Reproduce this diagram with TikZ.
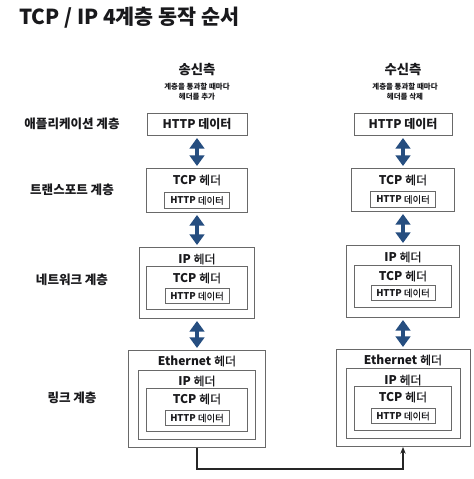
\documentclass[tikz,border=0pt]{standalone}
\usepackage{fontspec}
\setmainfont{Noto Sans CJK KR}
\newfontfamily\krsemi{Noto Sans CJK KR}[FakeBold=0.7]
\usetikzlibrary{arrows.meta}
\definecolor{arrowblue}{RGB}{38,78,128}
\definecolor{boxgray}{RGB}{105,105,105}
\definecolor{txt}{RGB}{25,25,28}
\newcommand{\kr}[1]{{\krsemi\mdseries #1}}
\begin{document}
\begin{tikzpicture}[x=0.75pt,y=-0.75pt,
 bx/.style n args={2}{draw=boxgray, line width=0.75pt, minimum width=#1*0.75pt, minimum height=#2*0.75pt, inner sep=0pt, anchor=north},
 lbl/.style={font=\bfseries\fontsize{9}{10}\selectfont, text=txt, inner sep=0pt},
 small/.style={font=\bfseries\fontsize{7}{7}\selectfont, text=txt, inner sep=0pt},
 layer/.style={font=\bfseries\fontsize{9.4}{11}\selectfont, text=txt, inner sep=0pt},
 colhead/.style={font=\bfseries\fontsize{10}{12}\selectfont, text=txt, inner sep=0pt},
 note/.style={font=\bfseries\fontsize{5.6}{7.5}\selectfont, text=txt, inner sep=0pt, align=center},
 dbl/.style={arrowblue, line width=3.5pt, {Triangle[width=11pt,length=8pt]}-{Triangle[width=11pt,length=8pt]}, shorten >=1.5pt, shorten <=1.5pt},
 link/.style={draw=black!85, line width=0.9pt, -{Stealth[length=5pt,width=4pt]}},
]
\useasboundingbox (0,0) rectangle (474,479);
\fill[white] (0,0) rectangle (474,479);

\node[anchor=west, font=\bfseries\fontsize{15.5}{18}\selectfont, text=txt, inner sep=0pt] (title) at (19,18) {TCP / IP 4계층 동작 순서};

% column headers
\node[colhead] (send) at (197,70) {송신측};
\node[note] (sendnote) at (197,92) {계층을 통과할 때마다\\헤더를 추가};
\node[colhead] (recv) at (403,70) {수신측};
\node[note] (recvnote) at (405,92) {계층을 통과할 때마다\\헤더를 삭제};

% layer labels
\node[layer] (lapp) at (72,124) {애플리케이션 계층};
\node[layer] (ltr) at (72,190) {트랜스포트 계층};
\node[layer] (lnet) at (72,280) {네트워크 계층};
\node[layer] (llink) at (72,398) {링크 계층};

% sender
\node[bx={100}{22}, lbl] (sA) at (197,113) {HTTP 데이터};

\node[bx={101}{44}] (sT) at (197,168) {};
\node[lbl] (sTl) at (197,180) {TCP \kr{헤더}};
\node[bx={65}{16}, small] (sTh) at (197,192) {HTTP \kr{데이터}};

\node[bx={115}{71}] (sN) at (197,247) {};
\node[lbl] (sNl) at (197,259) {IP \kr{헤더}};
\node[bx={101}{43}] (sNt) at (197,266) {};
\node[lbl] (sNtl) at (197,278) {TCP \kr{헤더}};
\node[bx={64}{15}, small] (sNh) at (197,288) {HTTP \kr{데이터}};

\node[bx={137}{97}] (sL) at (197,350) {};
\node[lbl] (sLl) at (197,361) {Ethernet \kr{헤더}};
\node[bx={117}{69}] (sLi) at (197,370) {};
\node[lbl] (sLil) at (197,381) {IP \kr{헤더}};
\node[bx={101}{43}] (sLt) at (197,388) {};
\node[lbl] (sLtl) at (197,399) {TCP \kr{헤더}};
\node[bx={64}{15}, small] (sLh) at (197,410) {HTTP \kr{데이터}};

% receiver
\node[bx={98}{22}, lbl] (rA) at (403,113) {HTTP 데이터};

\node[bx={103}{43}] (rT) at (403,168) {};
\node[lbl] (rTl) at (403,180) {TCP \kr{헤더}};
\node[bx={65}{16}, small] (rTh) at (403,191) {HTTP \kr{데이터}};

\node[bx={113}{72}] (rN) at (403,245) {};
\node[lbl] (rNl) at (403,257) {IP \kr{헤더}};
\node[bx={97}{42}] (rNt) at (403,265) {};
\node[lbl] (rNtl) at (403,276) {TCP \kr{헤더}};
\node[bx={64}{15}, small] (rNh) at (403,285) {HTTP \kr{데이터}};

\node[bx={134}{97}] (rL) at (403,349) {};
\node[lbl] (rLl) at (403,360) {Ethernet \kr{헤더}};
\node[bx={114}{70}] (rLi) at (403,368) {};
\node[lbl] (rLil) at (403,380) {IP \kr{헤더}};
\node[bx={97}{44}] (rLt) at (403,386) {};
\node[lbl] (rLtl) at (403,397) {TCP \kr{헤더}};
\node[bx={64}{15}, small] (rLh) at (403,408) {HTTP \kr{데이터}};

% arrows
\draw[dbl] (sA) -- (sT);
\draw[dbl] (sT) -- (sN);
\draw[dbl] (sN) -- (sL);
\draw[dbl] (rA) -- (rT);
\draw[dbl] (rT) -- (rN);
\draw[dbl] (rN) -- (rL);

\draw[link] (sL.south) -- ++(0,21) -| (rL.south);
\end{tikzpicture}
\end{document}
